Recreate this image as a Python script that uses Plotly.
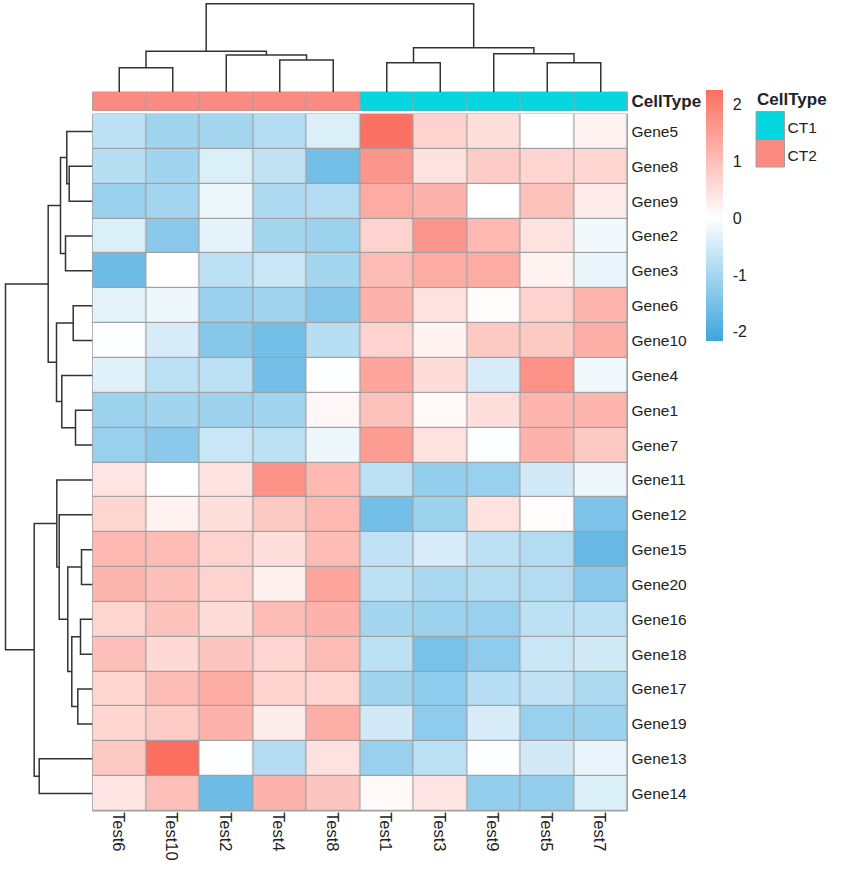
import plotly.graph_objects as go

W = 842
H = 871

tests = ["Test6", "Test10", "Test2", "Test4", "Test8", "Test1", "Test3", "Test9", "Test5", "Test7"]
genes = ["Gene5", "Gene8", "Gene9", "Gene2", "Gene3", "Gene6", "Gene10", "Gene4", "Gene1", "Gene7",
         "Gene11", "Gene12", "Gene15", "Gene20", "Gene16", "Gene18", "Gene17", "Gene19", "Gene13", "Gene14"]
cell_types = ["CT2", "CT2", "CT2", "CT2", "CT2", "CT1", "CT1", "CT1", "CT1", "CT1"]
legend_types = ["CT1", "CT2"]

expr = [
    [-0.75, -1.05, -1.0, -0.85, -0.4, 2.2, 0.7, 0.5, 0.0, 0.2],
    [-0.8, -1.05, -0.4, -0.7, -1.55, 1.65, 0.45, 0.8, 0.65, 0.65],
    [-1.15, -1.0, -0.2, -0.9, -0.85, 1.3, 1.2, 0.0, 0.95, 0.3],
    [-0.4, -1.3, -0.3, -1.0, -1.1, 0.7, 1.65, 1.1, 0.45, -0.15],
    [-1.6, 0.0, -0.75, -0.6, -1.0, 1.05, 1.3, 1.3, 0.2, -0.25],
    [-0.3, -0.2, -1.15, -1.05, -1.35, 1.2, 0.45, 0.05, 0.7, 1.15],
    [-0.05, -0.45, -1.35, -1.55, -0.8, 0.7, 0.2, 0.85, 0.85, 1.25],
    [-0.35, -0.75, -0.75, -1.55, -0.03, 1.4, 0.55, -0.45, 1.7, -0.15],
    [-1.1, -1.05, -1.1, -1.05, 0.12, 0.95, 0.1, 0.5, 1.15, 1.15],
    [-1.15, -1.3, -0.6, -0.75, -0.2, 1.55, 0.45, -0.03, 1.2, 0.85],
    [0.4, 0.0, 0.45, 1.7, 1.1, -0.75, -1.2, -1.15, -0.5, -0.2],
    [0.65, 0.2, 0.5, 0.85, 1.1, -1.55, -1.1, 0.45, 0.05, -1.45],
    [1.1, 1.05, 0.7, 0.5, 1.05, -0.7, -0.45, -0.75, -0.85, -1.7],
    [1.15, 1.0, 0.7, 0.25, 1.4, -0.75, -0.95, -0.85, -0.85, -1.3],
    [0.65, 0.95, 0.55, 1.05, 1.2, -1.0, -1.1, -1.15, -0.75, -0.75],
    [1.0, 0.6, 0.9, 0.65, 1.05, -0.75, -1.5, -1.25, -0.6, -0.5],
    [0.65, 1.05, 1.3, 0.7, 0.65, -1.05, -1.25, -0.8, -0.7, -0.9],
    [0.65, 0.8, 1.2, 0.3, 1.25, -0.5, -1.25, -0.45, -1.15, -1.1],
    [0.85, 2.25, -0.03, -0.85, 0.45, -1.15, -0.75, -0.02, -0.5, -0.25],
    [0.4, 1.0, -1.6, 1.2, 0.9, 0.1, 0.4, -1.2, -1.2, -0.4],
]

# tree merges: (left node, right node, height); leaves are the positions above,
# each merge makes the next node id
col_merges = [(0, 1, 24.3), (3, 4, 32), (2, 11, 37), (10, 12, 40.7), (5, 6, 29.3),
              (8, 9, 29.3), (7, 15, 38.3), (14, 16, 44.3), (13, 17, 88.3)]
row_merges = [(1, 2, 23.3), (0, 20, 25.7), (3, 4, 27), (21, 22, 32), (5, 6, 19.3),
              (8, 9, 17), (7, 25, 30.7), (24, 26, 36), (23, 27, 44.3), (12, 13, 11),
              (14, 15, 12), (16, 17, 14.7), (30, 31, 20.7), (29, 32, 24.7), (11, 33, 33.3),
              (10, 34, 35.7), (18, 19, 53.3), (35, 36, 58.3), (28, 37, 87)]

colorbar_ticks = [2, 1, 0, -1, -2]
colorbar_labels = ["2", "1", "0", "-1", "-2"]
z_low = -2.16
z_high = 2.25

FONT = "Liberation Sans"
GRID = "#A0A0A0"
CT_COLORS = {"CT1": "#05D6E0", "CT2": "#FB8A82"}


def px_x(a, b):
    return [a / W, b / W]


def px_y(top, bottom):
    return [1 - bottom / H, 1 - top / H]


def tree_lines(merges, n):
    # walks the merges, gives position/height pairs with None between the brackets
    pos = list(range(n))
    height = [0] * n
    p, h = [], []
    for left, right, ht in merges:
        p += [pos[left], pos[left], pos[right], pos[right], None]
        h += [height[left], ht, ht, height[right], None]
        pos.append((pos[left] + pos[right]) / 2)
        height.append(ht)
    return p, h


mid = (0 - z_low) / (z_high - z_low)
scale = [[0, "#3DA6DE"], [mid, "#FFFFFF"], [1, "#FB6F61"]]
ct_scale = [[0, CT_COLORS["CT1"]], [1, CT_COLORS["CT2"]]]

fig = go.Figure()

fig.add_trace(go.Heatmap(
    z=expr, x=tests, y=genes, xaxis="x", yaxis="y", zmin=z_low, zmax=z_high,
    colorscale=scale, xgap=1.2, ygap=1.2,
    colorbar=dict(
        x=706 / W, xanchor="left", y=1 - 215.5 / H, yanchor="middle",
        lenmode="pixels", len=251, thicknessmode="pixels", thickness=16.5,
        xpad=0, ypad=0, outlinewidth=0, tickmode="array",
        tickvals=colorbar_ticks, ticktext=colorbar_labels,
        ticks="outside", ticklen=7, tickcolor="rgba(0,0,0,0)",
        tickfont=dict(family=FONT, size=16, color="#222222"),
    ),
))

# annotation bar above the heatmap
fig.add_trace(go.Heatmap(
    z=[[legend_types.index(c) for c in cell_types]], x=tests, y=["<b>CellType</b>"],
    xaxis="x2", yaxis="y2", zmin=0, zmax=1, colorscale=ct_scale, showscale=False, xgap=1, ygap=0,
))

# legend swatches
fig.add_trace(go.Heatmap(
    z=[[0], [1]], y=legend_types, xaxis="x3", yaxis="y3", zmin=0, zmax=1,
    colorscale=ct_scale, showscale=False, ygap=0,
))

cx, ch = tree_lines(col_merges, len(tests))
fig.add_trace(go.Scatter(x=cx, y=ch, xaxis="x4", yaxis="y4", mode="lines",
                         line=dict(color="#333333", width=1.5), showlegend=False))
rp, rh = tree_lines(row_merges, len(genes))
fig.add_trace(go.Scatter(x=rh, y=rp, xaxis="x5", yaxis="y5", mode="lines",
                         line=dict(color="#333333", width=1.5), showlegend=False))

off = dict(showgrid=False, zeroline=False, showticklabels=False, ticks="", showline=False)
label_font = dict(family=FONT, size=15.5, color="#222222")
bold_font = dict(family=FONT, size=17, color="#222222")

fig.update_layout(
    width=W, height=H,
    margin=dict(l=0, r=0, t=0, b=0),
    paper_bgcolor="white", plot_bgcolor="white",
    showlegend=False,
    xaxis=dict(domain=px_x(92.5, 627.5), showgrid=False, zeroline=False, ticks="",
               tickangle=90, tickfont=dict(family=FONT, size=16.5, color="#222222"),
               ticklabelstandoff=0, ticklabelshift=-1),
    yaxis=dict(domain=px_y(114, 811), autorange="reversed", showgrid=False, zeroline=False,
               ticks="", side="right", anchor="x", tickfont=label_font, ticklabelstandoff=3),
    xaxis2=dict(domain=px_x(92.5, 627.5), anchor="y2", **off),
    yaxis2=dict(domain=px_y(92, 110.5), anchor="x2", side="right", showgrid=False, zeroline=False,
                ticks="", tickfont=bold_font, ticklabelstandoff=3),
    xaxis3=dict(domain=px_x(756, 784.5), anchor="y3", **off),
    yaxis3=dict(domain=px_y(111.5, 167), anchor="x3", side="right", autorange="reversed",
                showgrid=False, zeroline=False, ticks="", tickfont=label_font, ticklabelstandoff=2,
                ticklabelshift=-2),
    xaxis4=dict(domain=px_x(92.5, 627.5), anchor="y4", range=[-0.5, 9.5], **off),
    yaxis4=dict(domain=px_y(0, 92), anchor="x4", range=[0, 92], **off),
    xaxis5=dict(domain=px_x(0, 92.5), anchor="y5", range=[92.5, 0], **off),
    yaxis5=dict(domain=px_y(114, 811), anchor="x5", range=[19.5, -0.5], **off),
    annotations=[dict(text="<b>CellType</b>", xref="paper", yref="paper", x=754.5 / W, y=1 - 100 / H,
                      xanchor="left", yanchor="middle", showarrow=False,
                      font=bold_font)],
)

# grey cell borders show through the heatmap gaps
for xr, yr in [("x", "y"), ("x2", "y2")]:
    fig.add_shape(type="rect", xref=xr + " domain", yref=yr + " domain", x0=0, x1=1, y0=0, y1=1,
                  fillcolor=GRID, line=dict(color=GRID, width=1), layer="below")
fig.add_shape(type="rect", xref="x3 domain", yref="y3 domain", x0=0, x1=1, y0=0, y1=1,
              line=dict(color=GRID, width=1), layer="above")

# the page's default body margin would push the figure 8px off
fig.write_html("out.html", config={"displayModeBar": False},
               post_script="document.body.style.margin='0';window.dispatchEvent(new Event('resize'));")
